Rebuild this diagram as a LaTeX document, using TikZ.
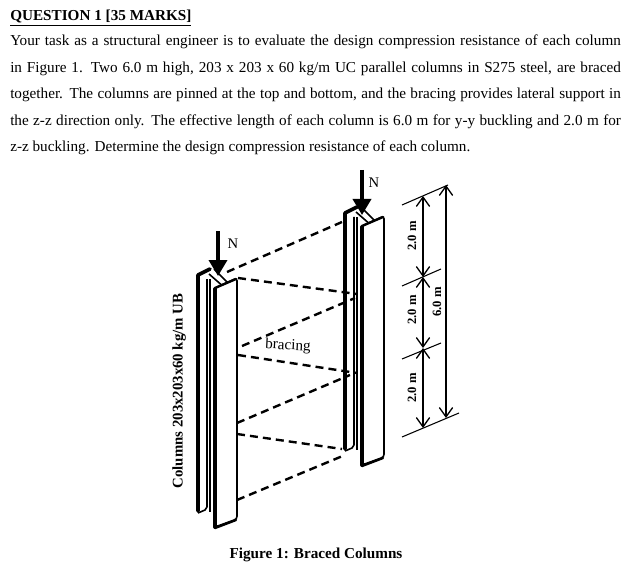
\documentclass[tikz,border=0pt]{standalone}
\usepackage{fontspec}
\setmainfont{Liberation Serif}
\usetikzlibrary{arrows.meta}
\tikzset{
  x=0.75pt,y=-0.75pt,
  thinedge/.style={line width=1.2pt,line join=round},
  heavyedge/.style={line width=2.8pt,line join=round,line cap=round},
  braceline/.style={line width=1.8pt,dash pattern=on 6pt off 3.8pt},
  loadarrow/.style={line width=2.6pt,-{Triangle[width=13.5pt,length=12pt]}},
  dimline/.style={line width=1pt,{Straight Barb[length=7pt,width=10pt]}-{Straight Barb[length=7pt,width=10pt]}},
  dimtick/.style={line width=0.8pt},
  dimlabel/.style={rotate=90,font=\bfseries\fontsize{9.5}{11}\selectfont,inner sep=0pt},
}
\begin{document}
\begin{tikzpicture}
\useasboundingbox (0,0) rectangle (640,567);
\node[anchor=north west,inner sep=0pt,font=\bfseries\fontsize{11.4}{13}\selectfont] (title) at (10,10) {\underline{QUESTION 1 [35 MARKS]}};
\node[anchor=north west,inner sep=0pt,text width=458pt,align=justify,font=\fontsize{11.4}{19.8}\selectfont] (task) at (10,35) {%
Your task as a structural engineer is to evaluate the design compression resistance of each column\linebreak
in Figure 1. Two 6.0 m high, 203 x 203 x 60 kg/m UC parallel columns in S275 steel, are braced\linebreak
together. The columns are pinned at the top and bottom, and the bracing provides lateral support in\linebreak
the z-z direction only. The effective length of each column is 6.0 m for y-y buckling and 2.0 m for\linebreak
z-z buckling. Determine the design compression resistance of each column.};

% the two columns
\foreach \dx/\dy in {0/0,147/-62} {
  \begin{scope}[shift={(\dx,\dy)}]
    \draw[heavyedge] (198,511) -- (198,275) -- (210,269);
    \draw[thinedge] (198,513) -- (205,510) -- (207,507) -- (207,279);
    \draw[thinedge] (210,279) -- (210,512);
    \draw[thinedge] (209,274) -- (225,288);
    \draw[thinedge] (214,269) -- (228,283);
    \draw[thinedge,fill=white,rounded corners=2pt] (215,527) -- (215,288) -- (237,278) -- (237,519) -- cycle;
    \draw[heavyedge] (215,527) -- (215,289);
    \draw[line width=1.8pt,line cap=round] (215,528) -- (236,520);
    \draw[line width=1.8pt,line cap=round] (215,288) -- (236,279);
  \end{scope}
}

% bracing
\coordinate (la) at (227,272);  \coordinate (ra) at (342,222);
\coordinate (lb) at (238,278);  \coordinate (rb) at (357,294);
\coordinate (lc) at (242,346);  \coordinate (rc) at (355,298);
\coordinate (ld) at (238,355);  \coordinate (rd) at (357,373);
\coordinate (le) at (237,423);  \coordinate (re) at (350,375);
\coordinate (lf) at (237,434);  \coordinate (rf) at (342,449);
\coordinate (lg) at (237,500);  \coordinate (rg) at (345,455);
\foreach \braceid in {a,b,c,d,e,f,g}
  \draw[braceline] (l\braceid) -- (r\braceid);
\node[inner sep=0pt,font=\fontsize{11.4}{13}\selectfont,rotate=-3] (bracing) at (288,346) {bracing};

% loads
\coordinate (loadlt) at (218,231); \coordinate (loadlb) at (218,276);
\coordinate (loadrt) at (362,170); \coordinate (loadrb) at (362,215);
\draw[loadarrow] (loadlt) -- (loadlb);
\draw[loadarrow] (loadrt) -- (loadrb);
\node[inner sep=0pt,font=\fontsize{11}{13}\selectfont] (nleft) at (233,244) {N};
\node[inner sep=0pt,font=\fontsize{11}{13}\selectfont] (nright) at (374,183) {N};
\node[rotate=90,inner sep=0pt,font=\bfseries\fontsize{11.1}{13}\selectfont] (collabel) at (179,391) {Columns 203x203x60 kg/m UB};

% dimensions
\coordinate (ticka) at (402,205); \coordinate (tickaend) at (448,185);
\coordinate (tickb) at (402,286); \coordinate (tickbend) at (441,269);
\coordinate (tickc) at (402,359); \coordinate (tickcend) at (441,343);
\coordinate (tickd) at (402,437); \coordinate (tickdend) at (459,413);
\foreach \tickid in {a,b,c,d}
  \draw[dimtick] (tick\tickid) -- (tick\tickid end);
\coordinate (dimt) at (423,196); \coordinate (dimm) at (423,277);
\coordinate (dimn) at (423,348); \coordinate (dimb) at (423,428);
\coordinate (allt) at (446,185); \coordinate (allb) at (446,418);
\draw[dimline] (dimt) -- (dimm);
\draw[dimline] (dimm) -- (dimn);
\draw[dimline] (dimn) -- (dimb);
\draw[dimline] (allt) -- (allb);
\node[dimlabel] (upper) at (412,236) {2.0 m};
\node[dimlabel] (middle) at (412,310) {2.0 m};
\node[dimlabel] (lower) at (412,388) {2.0 m};
\node[dimlabel] (whole) at (437,302) {6.0 m};

\node[inner sep=0pt,font=\bfseries\fontsize{11.4}{13}\selectfont] (caption) at (316,555) {Figure 1: Braced Columns};
\end{tikzpicture}
\end{document}
